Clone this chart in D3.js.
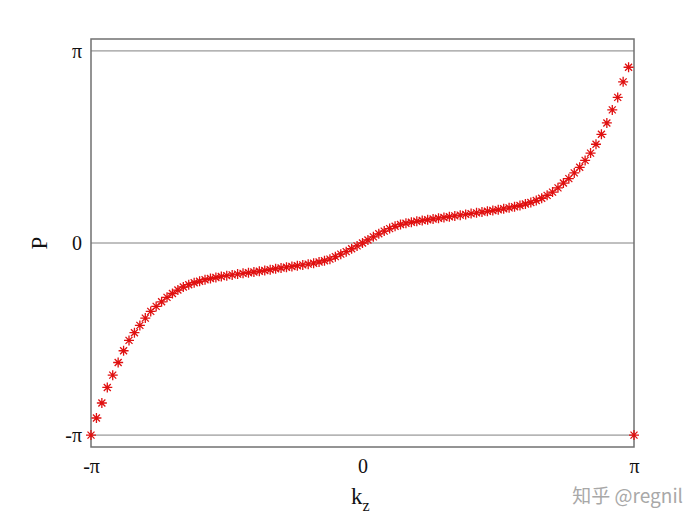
<!DOCTYPE html>
<html>
<head>
<meta charset="utf-8">
<script src="https://cdn.jsdelivr.net/npm/d3@7"></script>
<style>
  html, body { margin: 0; padding: 0; background: #fff; }
  svg { display: block; }
</style>
</head>
<body>
<svg id="chart" width="700" height="525"></svg>
<script>
// k_z in units of pi
const kOverPi = [
  -1.00,-0.98,-0.96,-0.94,-0.92,-0.90,-0.88,-0.86,-0.84,-0.82,
  -0.80,-0.78,-0.76,-0.74,-0.72,-0.70,-0.68,-0.66,-0.64,-0.62,
  -0.60,-0.58,-0.56,-0.54,-0.52,-0.50,-0.48,-0.46,-0.44,-0.42,
  -0.40,-0.38,-0.36,-0.34,-0.32,-0.30,-0.28,-0.26,-0.24,-0.22,
  -0.20,-0.18,-0.16,-0.14,-0.12,-0.10,-0.08,-0.06,-0.04,-0.02,
   0.00,
   0.02, 0.04, 0.06, 0.08, 0.10, 0.12, 0.14, 0.16, 0.18, 0.20,
   0.22, 0.24, 0.26, 0.28, 0.30, 0.32, 0.34, 0.36, 0.38, 0.40,
   0.42, 0.44, 0.46, 0.48, 0.50, 0.52, 0.54, 0.56, 0.58, 0.60,
   0.62, 0.64, 0.66, 0.68, 0.70, 0.72, 0.74, 0.76, 0.78, 0.80,
   0.82, 0.84, 0.86, 0.88, 0.90, 0.92, 0.94, 0.96, 0.98, 1.00
];
// P in units of pi
const pOverPi = [
  -1.000,-0.911,-0.833,-0.752,-0.688,-0.622,-0.561,-0.507,-0.467,-0.429,
  -0.391,-0.356,-0.330,-0.306,-0.283,-0.263,-0.245,-0.229,-0.217,-0.207,
  -0.199,-0.191,-0.185,-0.180,-0.174,-0.170,-0.166,-0.162,-0.158,-0.155,
  -0.151,-0.147,-0.143,-0.139,-0.134,-0.130,-0.126,-0.122,-0.118,-0.114,
  -0.110,-0.105,-0.099,-0.092,-0.084,-0.071,-0.058,-0.045,-0.030,-0.015,
   0.000,
   0.016, 0.032, 0.048, 0.062, 0.075, 0.087, 0.096, 0.103, 0.108, 0.113,
   0.117, 0.121, 0.125, 0.129, 0.133, 0.137, 0.141, 0.145, 0.149, 0.153,
   0.157, 0.161, 0.165, 0.169, 0.173, 0.178, 0.183, 0.189, 0.195, 0.203,
   0.211, 0.221, 0.233, 0.248, 0.265, 0.287, 0.312, 0.335, 0.365, 0.394,
   0.430, 0.468, 0.514, 0.566, 0.625, 0.693, 0.758, 0.839, 0.915,-1.000
];
const xTickVals = [-Math.PI, 0, Math.PI];
const xTickLabels = ["-\u03c0", "0", "\u03c0"];
const yTickVals = [-Math.PI, 0, Math.PI];
const yTickLabels = ["-\u03c0", "0", "\u03c0"];
const refLines = [-Math.PI, 0, Math.PI];

(function () {
const data = kOverPi.map((k, i) => ({ k: k * Math.PI, p: pOverPi[i] * Math.PI }));

const svg = d3.select("#chart");
const mL = 91, mR = 634, mT = 39, mB = 447;
const yLim = 1.062 * Math.PI;

const x = d3.scaleLinear().domain([-Math.PI, Math.PI]).range([mL, mR]);
const y = d3.scaleLinear().domain([-yLim, yLim]).range([mB, mT]);

// reference horizontal lines
svg.append("g").selectAll("line").data(refLines).join("line")
  .attr("x1", mL).attr("x2", mR)
  .attr("y1", d => y(d)).attr("y2", d => y(d))
  .attr("stroke", "#808080").attr("stroke-width", 1);

// frame
svg.append("rect")
  .attr("x", mL).attr("y", mT)
  .attr("width", mR - mL).attr("height", mB - mT)
  .attr("fill", "none").attr("stroke", "#707070").attr("stroke-width", 1.5);

const fontSerif = "'Liberation Serif', 'DejaVu Serif', serif";
const xAxis = d3.axisBottom(x).tickValues(xTickVals)
  .tickFormat((d, i) => xTickLabels[i]).tickSize(0).tickPadding(12);
const gx = svg.append("g").attr("transform", `translate(0,${mB})`).call(xAxis);
gx.select(".domain").remove();
gx.selectAll("text").attr("font-family", fontSerif).attr("font-size", 20).attr("fill", "#111");

const yAxis = d3.axisLeft(y).tickValues(yTickVals)
  .tickFormat((d, i) => yTickLabels[i]).tickSize(0).tickPadding(9);
const gy = svg.append("g").attr("transform", `translate(${mL},0)`).call(yAxis);
gy.select(".domain").remove();
gy.selectAll("text").attr("font-family", fontSerif).attr("font-size", 20).attr("fill", "#111");

// axis titles
const xt = svg.append("text")
  .attr("x", 351).attr("y", 504)
  .attr("font-family", fontSerif).attr("font-size", 23).attr("fill", "#111");
xt.append("tspan").text("k");
xt.append("tspan").attr("dy", 7).attr("font-size", 16).text("z");

svg.append("text")
  .attr("transform", "translate(47,243) rotate(-90)")
  .attr("text-anchor", "middle")
  .attr("font-family", fontSerif).attr("font-size", 23).attr("fill", "#111")
  .text("P");

// asterisk markers
const r = 5;
const c = r * 0.7;
const star = `M${-r},0L${r},0M0,${-r}L0,${r}M${-c},${-c}L${c},${c}M${-c},${c}L${c},${-c}`;
svg.append("g").selectAll("path").data(data).join("path")
  .attr("transform", d => `translate(${x(d.k)},${y(d.p)})`)
  .attr("d", star)
  .attr("fill", "none").attr("stroke", "#e01010").attr("stroke-width", 1.3);

// watermark
svg.append("text")
  .attr("x", 683).attr("y", 503).attr("text-anchor", "end")
  .attr("font-family", "'Noto Sans CJK SC', 'Noto Sans', sans-serif")
  .attr("font-size", 19).attr("fill", "#a8a8a8")
  .text("知乎 @regnil");
})();
</script>
</body>
</html>
